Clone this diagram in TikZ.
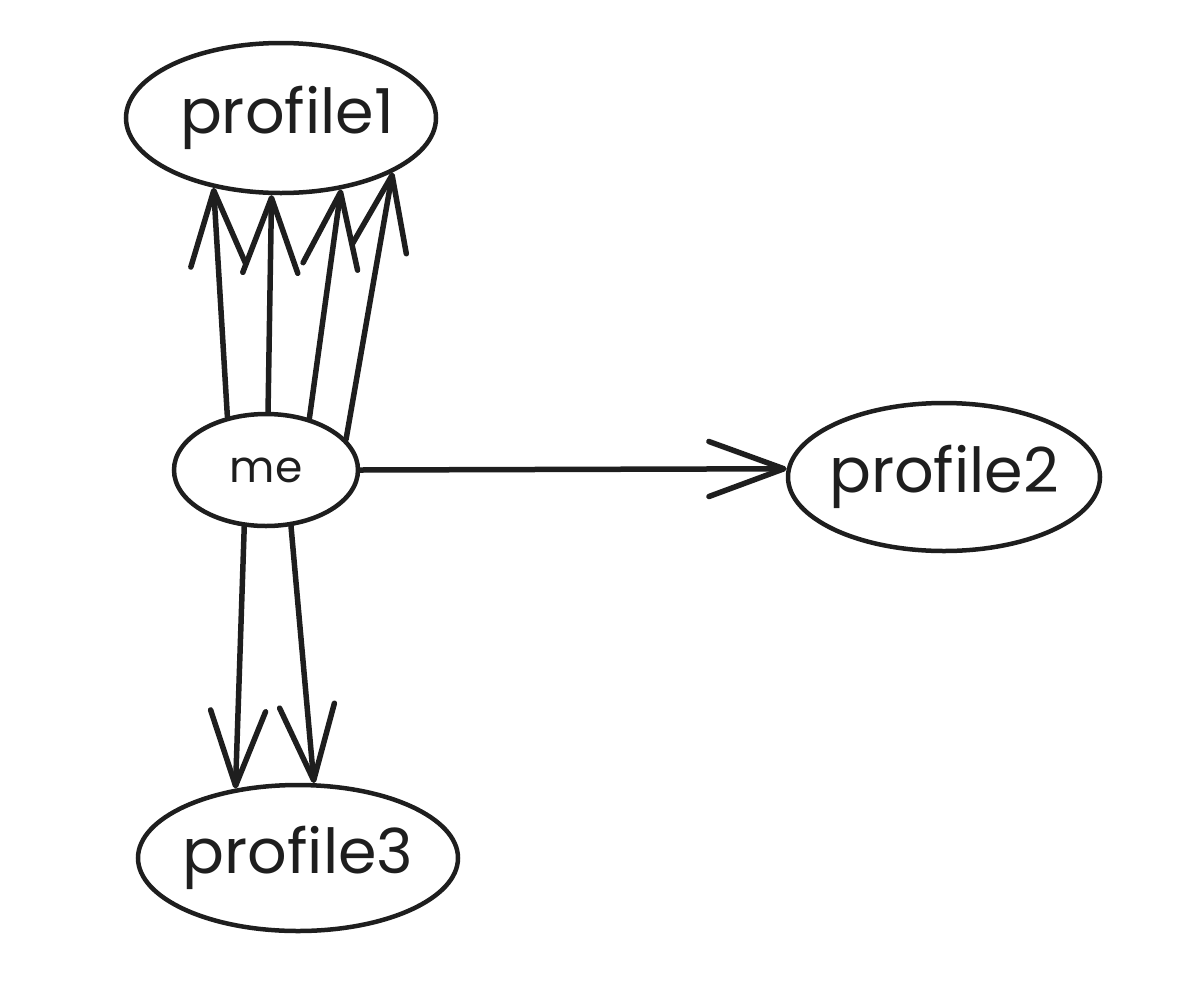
\documentclass[tikz,border=0pt]{standalone}
\usepackage{fontspec}
\setmainfont{Poppins}
\usetikzlibrary{shapes.geometric,arrows.meta}
\definecolor{ink}{HTML}{1E1E1E}
\begin{document}
\begin{tikzpicture}[x=1pt,y=-1pt,
  bubble/.style={ellipse,draw=ink,line width=4.5pt,inner sep=0pt,text=ink,
    font=\fontsize{62}{72}\selectfont},
  link/.style={draw=ink,line width=5.5pt,line cap=round,
    -{Straight Barb[length=75pt,width=55pt,line cap=round,line join=round]}}]
\useasboundingbox (0,0) rectangle (1184,994);
\node[bubble,minimum width=310pt,minimum height=150pt] (p1) at (281,118) {\makebox[0pt]{\raisebox{-8pt}{\hspace{12pt}profile1}}};
\node[bubble,minimum width=184pt,minimum height=112pt,font=\fontsize{44}{52}\selectfont] (me) at (266,470) {\makebox[0pt]{me}};
\node[bubble,minimum width=312pt,minimum height=148pt] (p2) at (944,477) {\makebox[0pt]{\raisebox{-5pt}{profile2}}};
\node[bubble,minimum width=320pt,minimum height=146pt] (p3) at (298,858) {\makebox[0pt]{profile3}};
\draw[link] (me.126) -- (p1.226);
\draw[link] (me.88) -- (p1.263);
\draw[link] (me.50) -- (p1.-50);
\draw[link] (me.21) -- (p1.-26);
\draw[link] (me.0) -- (p2.177);
\draw[link] (me.249) -- (p3.132);
\draw[link] (me.-66) -- (p3.78);
\end{tikzpicture}
\end{document}
